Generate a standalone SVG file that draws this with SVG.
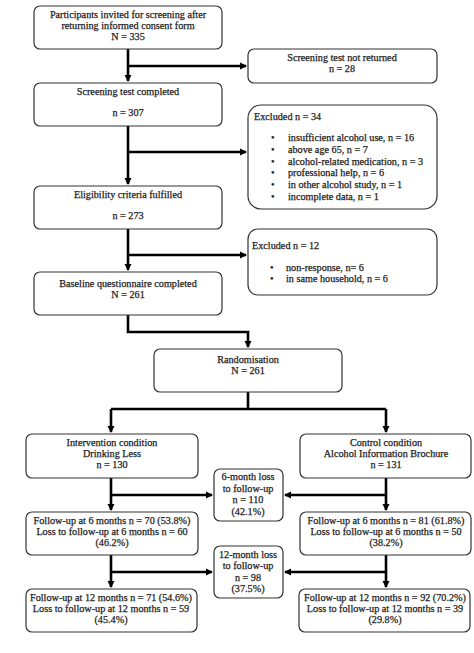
<svg xmlns="http://www.w3.org/2000/svg" width="474" height="653" viewBox="0 0 474 653">
<style>
.b{fill:#fff;stroke:#333;stroke-width:1.2}
text{font-family:"Liberation Serif","DejaVu Serif",serif;font-size:10.2px;fill:#222;stroke:#222;stroke-width:0.25}
.c{text-anchor:middle}
.ln{fill:none;stroke:#000;stroke-width:2.6}
</style>
<defs>
<marker id="ah" markerWidth="8" markerHeight="8" refX="6" refY="4" orient="auto" markerUnits="userSpaceOnUse">
<path d="M0,0.5 L7,4 L0,7.5 Z" fill="#000"/>
</marker>
</defs>
<rect width="474" height="653" fill="#fff"/>
<g id="connectors">
<path class="ln" d="M128,49 V81" marker-end="url(#ah)"/>
<path class="ln" d="M128,66 H246" marker-end="url(#ah)"/>
<path class="ln" d="M128,126 V184" marker-end="url(#ah)"/>
<path class="ln" d="M128,152 H246" marker-end="url(#ah)"/>
<path class="ln" d="M128,229 V270" marker-end="url(#ah)"/>
<path class="ln" d="M128,255 H246" marker-end="url(#ah)"/>
<path class="ln" d="M128,315 V332 H248 V347" marker-end="url(#ah)"/>
<path class="ln" d="M248,392 V409"/>
<path class="ln" d="M111,409 H386"/>
<path class="ln" d="M111,409 V432" marker-end="url(#ah)"/>
<path class="ln" d="M386,409 V432" marker-end="url(#ah)"/>
<path class="ln" d="M111,478 V510" marker-end="url(#ah)"/>
<path class="ln" d="M386,478 V510" marker-end="url(#ah)"/>
<path class="ln" d="M111,495 H212" marker-end="url(#ah)"/>
<path class="ln" d="M386,495 H285" marker-end="url(#ah)"/>
<path class="ln" d="M111,555 V587" marker-end="url(#ah)"/>
<path class="ln" d="M386,555 V587" marker-end="url(#ah)"/>
<path class="ln" d="M111,572 H212" marker-end="url(#ah)"/>
<path class="ln" d="M386,572 H285" marker-end="url(#ah)"/>
</g>
<g id="invited">
<rect class="b" x="34" y="6" width="188" height="43" rx="6"/>
<text class="c" x="128" y="18">Participants invited for screening after</text>
<text class="c" x="128" y="29">returning informed consent form</text>
<text class="c" x="128" y="40">N = 335</text>
</g>
<g id="notreturned">
<rect class="b" x="248" y="49" width="189" height="34" rx="6"/>
<text class="c" x="342" y="61">Screening test not returned</text>
<text class="c" x="342" y="72">n = 28</text>
</g>
<g id="screened">
<rect class="b" x="34" y="83" width="188" height="43" rx="6"/>
<text class="c" x="128" y="95">Screening test completed</text>
<text class="c" x="128" y="116">n = 307</text>
</g>
<g id="excluded34">
<rect class="b" x="248" y="105" width="189" height="104" rx="13"/>
<text x="254" y="120">Excluded n = 34</text>
<g>
<text x="271" y="141">•</text><text x="288" y="141">insufficient alcohol use, n = 16</text>
<text x="271" y="153">•</text><text x="288" y="153">above age 65, n = 7</text>
<text x="271" y="165">•</text><text x="288" y="165">alcohol-related medication, n = 3</text>
<text x="271" y="176">•</text><text x="288" y="176">professional help, n = 6</text>
<text x="271" y="188">•</text><text x="288" y="188">in other alcohol study, n = 1</text>
<text x="271" y="200">•</text><text x="288" y="200">incomplete data, n = 1</text>
</g>
</g>
<g id="eligible">
<rect class="b" x="34" y="186" width="188" height="43" rx="6"/>
<text class="c" x="128" y="198">Eligibility criteria fulfilled</text>
<text class="c" x="128" y="219">n = 273</text>
</g>
<g id="excluded12">
<rect class="b" x="248" y="229" width="189" height="66" rx="10"/>
<text x="252" y="249">Excluded n = 12</text>
<text x="270" y="271">•</text><text x="286" y="271">non-response, n= 6</text>
<text x="270" y="282">•</text><text x="286" y="282">in same household, n = 6</text>
</g>
<g id="baseline">
<rect class="b" x="34" y="272" width="188" height="43" rx="6"/>
<text class="c" x="128" y="287">Baseline questionnaire completed</text>
<text class="c" x="128" y="298">N = 261</text>
</g>
<g id="randomisation">
<rect class="b" x="154" y="349" width="188" height="43" rx="6"/>
<text class="c" x="248" y="363">Randomisation</text>
<text class="c" x="248" y="374">N = 261</text>
</g>
<g id="intervention">
<rect class="b" x="26" y="434" width="172" height="44" rx="6"/>
<text class="c" x="112" y="446">Intervention condition</text>
<text class="c" x="112" y="457">Drinking Less</text>
<text class="c" x="112" y="468">n = 130</text>
</g>
<g id="control">
<rect class="b" x="300" y="434" width="171" height="44" rx="6"/>
<text class="c" x="386" y="446">Control condition</text>
<text class="c" x="386" y="457">Alcohol Information Brochure</text>
<text class="c" x="386" y="468">n = 131</text>
</g>
<g id="loss6">
<rect class="b" x="214" y="469" width="69" height="52" rx="6"/>
<text class="c" x="248" y="480">6-month loss</text>
<text class="c" x="248" y="492">to follow-up</text>
<text class="c" x="248" y="503">n = 110</text>
<text class="c" x="248" y="515">(42.1%)</text>
</g>
<g id="fu6left">
<rect class="b" x="26" y="512" width="172" height="43" rx="6"/>
<text class="c" x="112" y="524">Follow-up at 6 months n = 70 (53.8%)</text>
<text class="c" x="112" y="535">Loss to follow-up at 6 months n = 60</text>
<text class="c" x="112" y="546">(46.2%)</text>
</g>
<g id="fu6right">
<rect class="b" x="300" y="512" width="171" height="43" rx="6"/>
<text class="c" x="386" y="524">Follow-up at 6 months n = 81 (61.8%)</text>
<text class="c" x="386" y="535">Loss to follow-up at 6 months n = 50</text>
<text class="c" x="386" y="546">(38.2%)</text>
</g>
<g id="loss12">
<rect class="b" x="214" y="546" width="69" height="52" rx="6"/>
<text class="c" x="248" y="558">12-month loss</text>
<text class="c" x="248" y="569">to follow-up</text>
<text class="c" x="248" y="581">n = 98</text>
<text class="c" x="248" y="592">(37.5%)</text>
</g>
<g id="fu12left">
<rect class="b" x="26" y="589" width="171" height="43" rx="6"/>
<text class="c" x="111" y="601">Follow-up at 12 months n = 71 (54.6%)</text>
<text class="c" x="111" y="612">Loss to follow-up at 12 months n = 59</text>
<text class="c" x="111" y="623">(45.4%)</text>
</g>
<g id="fu12right">
<rect class="b" x="299" y="589" width="171" height="43" rx="6"/>
<text class="c" x="385" y="601">Follow-up at 12 months n = 92 (70.2%)</text>
<text class="c" x="385" y="612">Loss to follow-up at 12 months n = 39</text>
<text class="c" x="385" y="623">(29.8%)</text>
</g>
</svg>
